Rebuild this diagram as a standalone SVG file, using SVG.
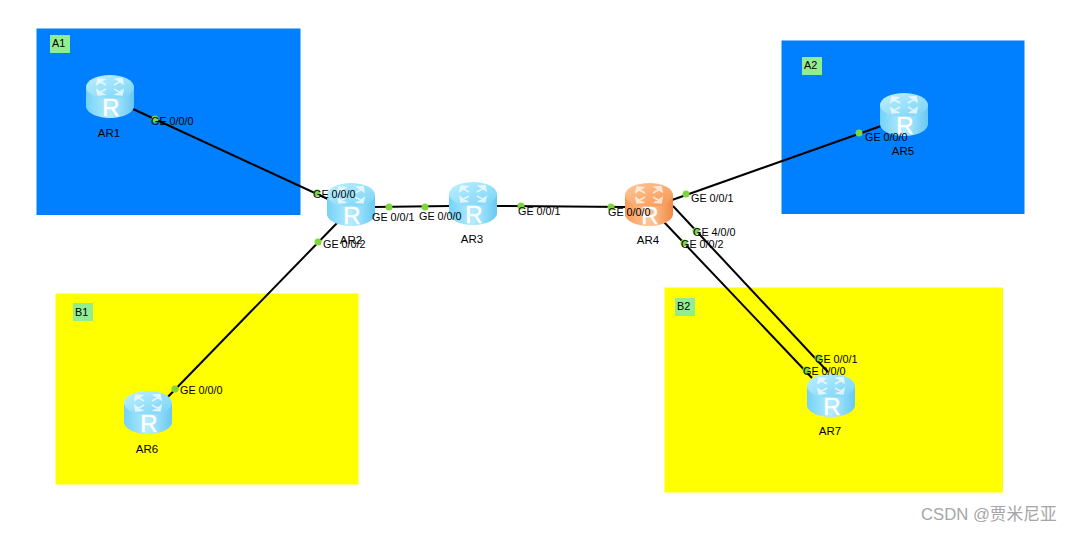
<svg xmlns="http://www.w3.org/2000/svg" width="1073" height="533" viewBox="0 0 1073 533">
<style>
text{font-family:"Liberation Sans",Arial,sans-serif;font-size:10.800px;fill:#000}
.lk{stroke:#000;stroke-width:2;fill:none}
.dot{fill:#7ed63c}
.tag{fill:#90ee90}
.nm{text-anchor:middle;font-size:11.500px}
.r{font-size:24px;fill:#fff;text-anchor:middle;stroke:#fff;stroke-width:.4}
.ar{fill:#fff;stroke:#fff;stroke-width:1.600;opacity:.7}
</style>
<defs>
<linearGradient id="bs" x1="0" x2="1" y1="0" y2="0"><stop offset="0" stop-color="#74d2f7"/><stop offset=".5" stop-color="#b5ecff"/><stop offset="1" stop-color="#68c8f3"/></linearGradient>
<linearGradient id="bt" x1="0" x2="1" y1="0" y2="1"><stop offset="0" stop-color="#bdf0ff"/><stop offset="1" stop-color="#78d2f6"/></linearGradient>
<linearGradient id="os" x1="0" x2="1" y1="0" y2="0"><stop offset="0" stop-color="#f79a55"/><stop offset=".5" stop-color="#ffc79a"/><stop offset="1" stop-color="#f08a45"/></linearGradient>
<linearGradient id="ot" x1="0" x2="1" y1="0" y2="1"><stop offset="0" stop-color="#ffc79a"/><stop offset="1" stop-color="#f59650"/></linearGradient>
<g id="arrows">
<path class="ar" d="M20 10L14 6.500M11 9l1-5 6 .5zM28 10l6-3.500M30 4l6-.5 1 5zM20 14l-6 3.500M11 15l1 5 6-.5zM28 14l6 3.500M37 15l-1 5-6-.5z"/>
</g>
<g id="rb">
<path d="M0 12v19c0 6.500 10.700 12 24 12s24-5.500 24-12V12z" fill="url(#bs)"/>
<ellipse cx="24" cy="12" rx="24" ry="12" fill="url(#bt)"/>
<use href="#arrows"/>
<text class="r" x="25" y="41">R</text>
</g>
<g id="ro">
<path d="M0 12v19c0 6.500 10.700 12 24 12s24-5.500 24-12V12z" fill="url(#os)"/>
<ellipse cx="24" cy="12" rx="24" ry="12" fill="url(#ot)"/>
<use href="#arrows"/>
<text class="r" x="25" y="41">R</text>
</g>
</defs>
<rect width="1073" height="533" fill="#fff"/>
<g id="area-A1"><rect x="36.500" y="28.500" width="264" height="186.500" fill="#0080ff"/><rect class="tag" x="50" y="35" width="20" height="18"/><text x="52" y="47">A1</text></g>
<g id="area-A2"><rect x="781.500" y="40.500" width="243" height="173.500" fill="#0080ff"/><rect class="tag" x="802" y="57" width="20" height="18"/><text x="804" y="69">A2</text></g>
<g id="area-B1"><rect x="55.500" y="293.500" width="303" height="191" fill="#ffff00"/><rect class="tag" x="73" y="303" width="20" height="18"/><text x="75" y="316">B1</text></g>
<g id="area-B2"><rect x="664.500" y="287.500" width="338.500" height="205" fill="#ffff00"/><rect class="tag" x="675" y="298" width="20" height="18"/><text x="677" y="310">B2</text></g>
<g id="connectors">
<line class="lk" x1="133" y1="109" x2="330" y2="200"/>
<line class="lk" x1="374" y1="207" x2="450" y2="206"/>
<line class="lk" x1="497" y1="206" x2="626" y2="207"/>
<line class="lk" x1="338" y1="222" x2="160" y2="405"/>
<line class="lk" x1="672" y1="200" x2="881" y2="126"/>
<line class="lk" x1="673" y1="206" x2="828" y2="372"/>
<line class="lk" x1="664" y1="222" x2="812" y2="378"/>
</g>
<g id="AR1"><use href="#rb" x="86" y="75"/><text class="nm" x="109" y="137">AR1</text></g>
<g id="AR2"><use href="#rb" x="327" y="183"/><text class="nm" x="351" y="244">AR2</text></g>
<g id="AR3"><use href="#rb" x="449" y="182"/><text class="nm" x="472" y="243">AR3</text></g>
<g id="AR4"><use href="#ro" x="625" y="183"/><text class="nm" x="648" y="244">AR4</text></g>
<g id="AR5"><use href="#rb" x="880" y="93"/><text class="nm" x="903" y="155">AR5</text></g>
<g id="AR6"><use href="#rb" x="124" y="391"/><text class="nm" x="147" y="453">AR6</text></g>
<g id="AR7"><use href="#rb" x="807" y="374"/><text class="nm" x="830" y="435">AR7</text></g>
<g id="ports">
<circle class="dot" cx="155" cy="119" r="3.500"/><text x="151" y="125">GE 0/0/0</text>
<circle class="dot" cx="317" cy="193" r="3.500"/><text x="313" y="198">GE 0/0/0</text>
<circle class="dot" cx="318" cy="242" r="3.500"/><text x="323" y="248">GE 0/0/2</text>
<circle class="dot" cx="389" cy="207" r="3.500"/><text x="372" y="221">GE 0/0/1</text>
<circle class="dot" cx="425" cy="207" r="3.500"/><text x="419" y="220">GE 0/0/0</text>
<circle class="dot" cx="521" cy="206" r="3.500"/><text x="518" y="215">GE 0/0/1</text>
<circle class="dot" cx="611" cy="207" r="3.500"/><text x="608" y="216">GE 0/0/0</text>
<circle class="dot" cx="686" cy="194" r="3.500"/><text x="691" y="202">GE 0/0/1</text>
<circle class="dot" cx="696" cy="231" r="3.500"/><text x="693" y="236">GE 4/0/0</text>
<circle class="dot" cx="684" cy="243" r="3.500"/><text x="681" y="248">GE 0/0/2</text>
<circle class="dot" cx="859" cy="133" r="3.500"/><text x="865" y="141">GE 0/0/0</text>
<circle class="dot" cx="175" cy="389" r="3.500"/><text x="180" y="394">GE 0/0/0</text>
<circle class="dot" cx="818" cy="358" r="3.500"/><text x="815" y="363">GE 0/0/1</text>
<circle class="dot" cx="806" cy="370" r="3.500"/><text x="803" y="375">GE 0/0/0</text>
</g>
<text x="921" y="520" style="font-size:16.700px;fill:#a6a6a6;font-family:'Liberation Sans','Noto Sans CJK SC',sans-serif">CSDN @贾米尼亚</text>
</svg>
